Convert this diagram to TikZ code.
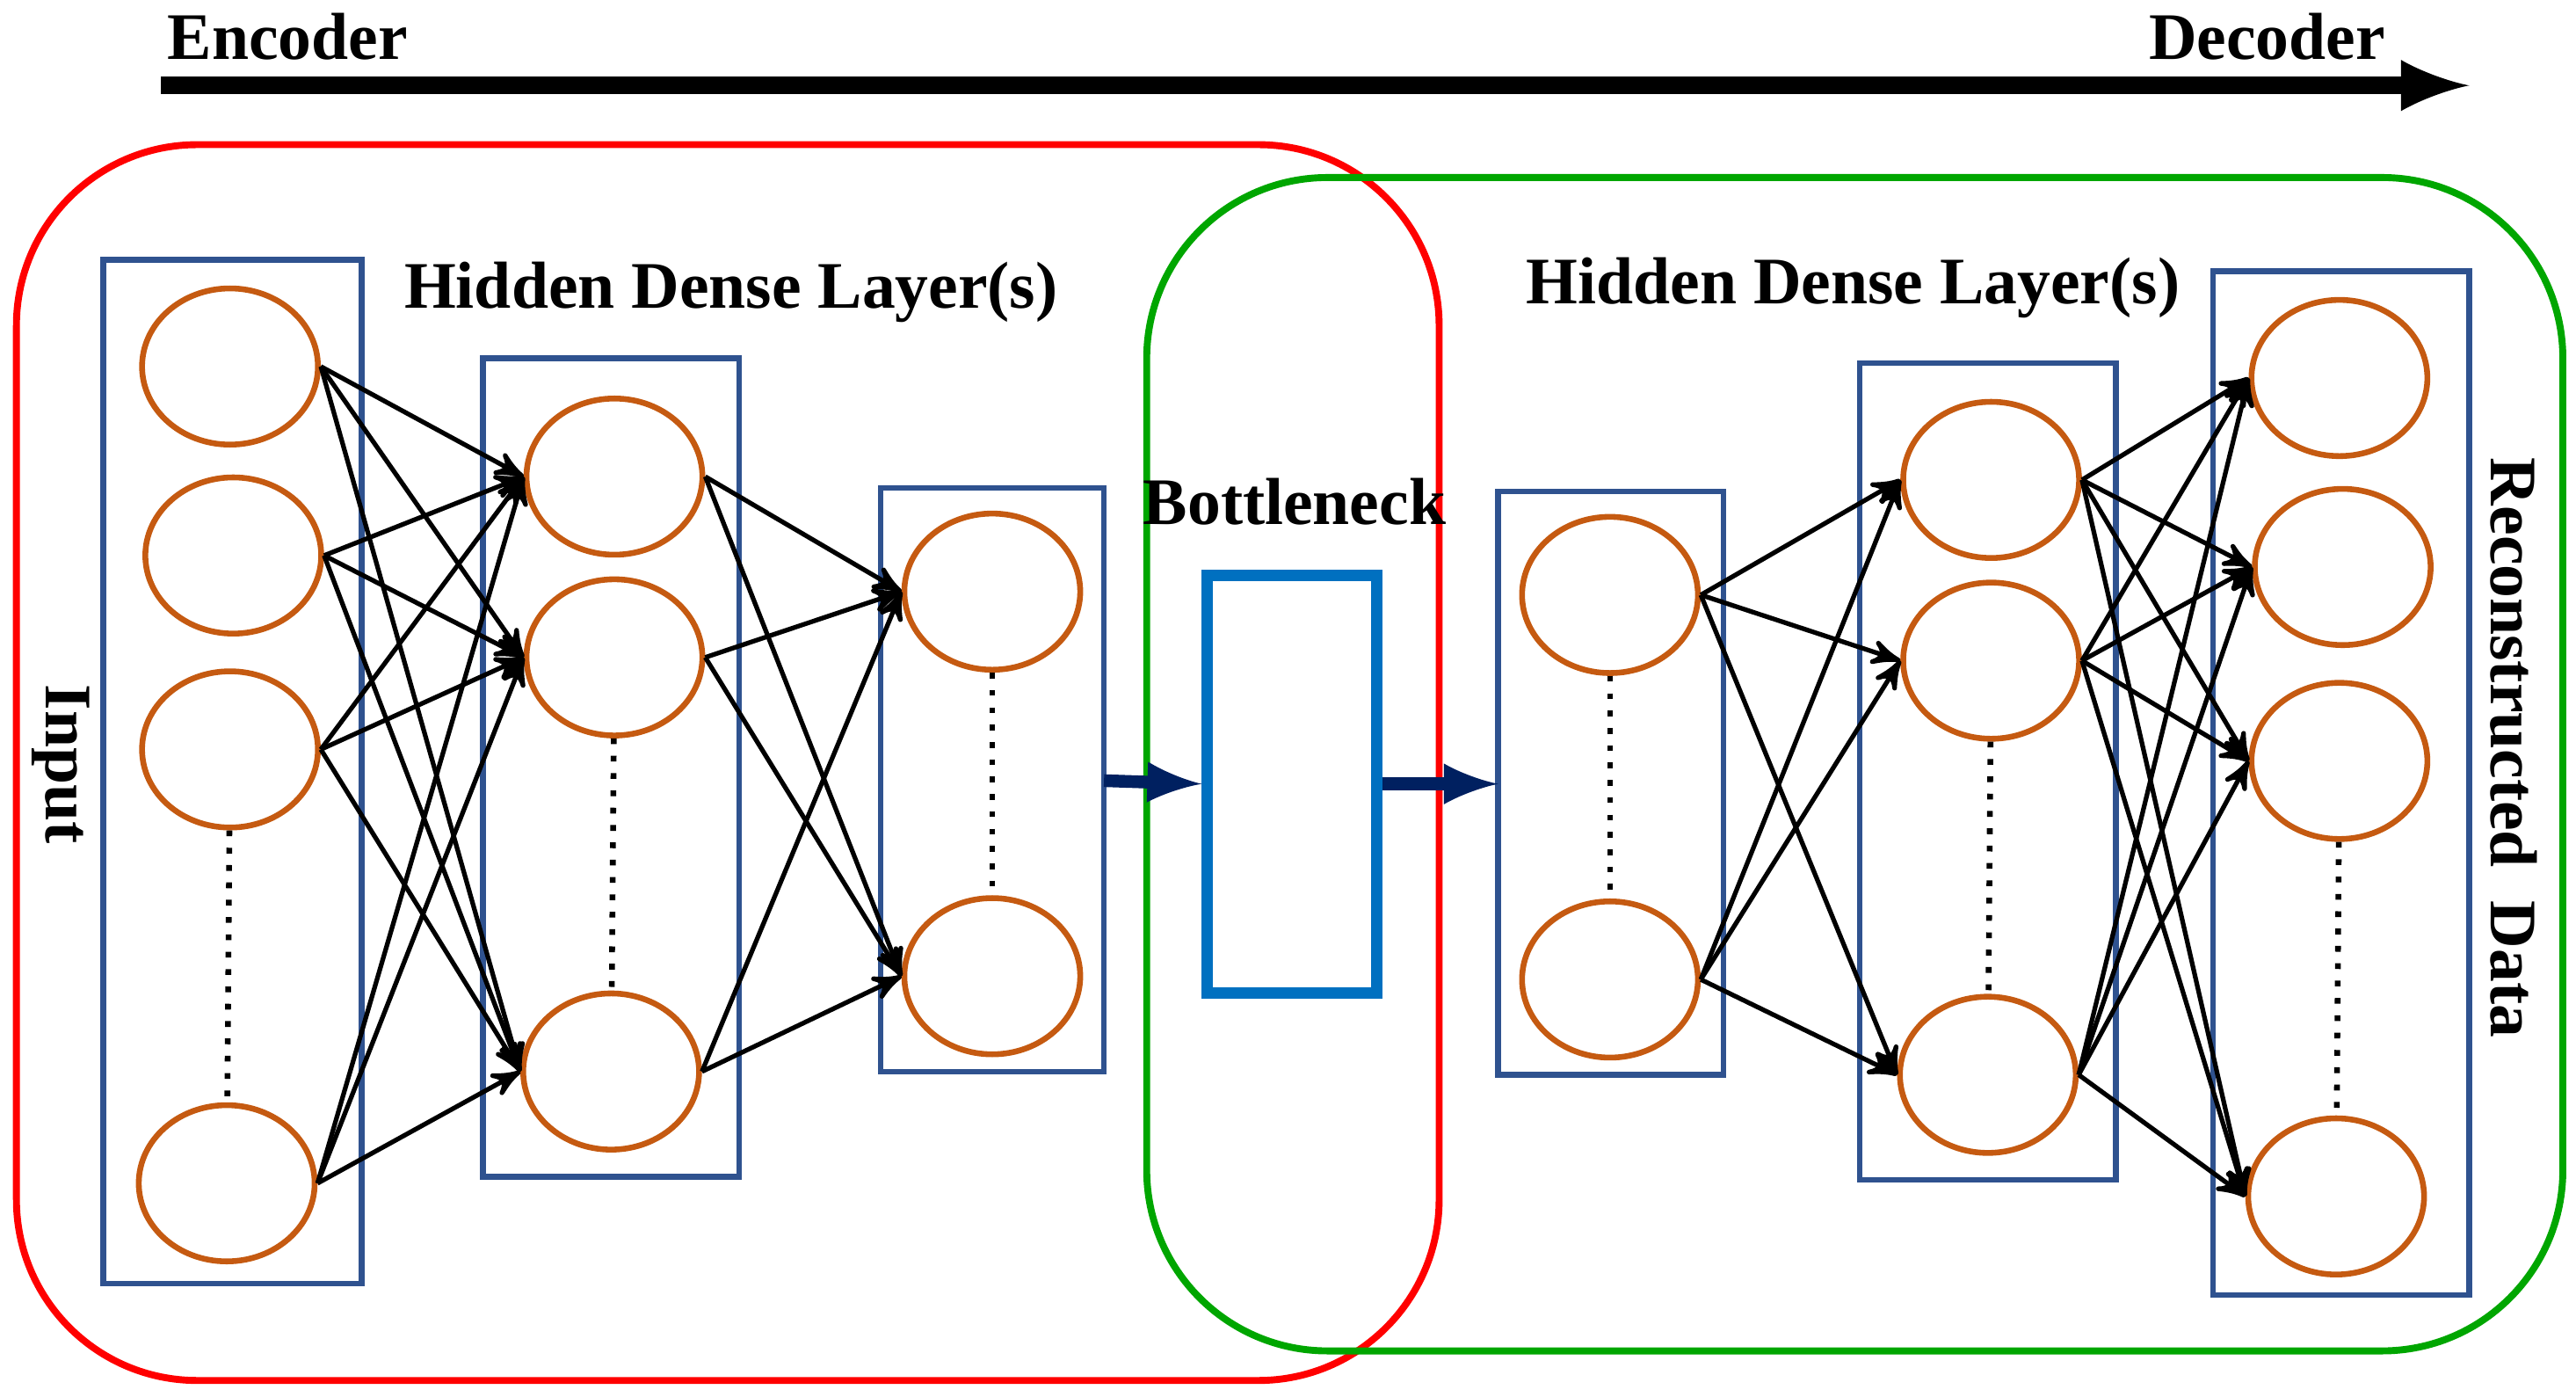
\documentclass[tikz,border=0pt]{standalone}
\usepackage{fontspec}
\setmainfont{Liberation Serif}
\usetikzlibrary{arrows,shapes.geometric}
\definecolor{boxblue}{RGB}{47,82,143}
\definecolor{neuron}{RGB}{197,90,17}
\definecolor{bneck}{RGB}{0,112,192}
\definecolor{navy}{RGB}{0,32,96}

\begin{document}
\begin{tikzpicture}[x=0.01cm,y=-0.01cm,>=stealth',
  neuron node/.style={ellipse,draw=neuron,line width=1pt,minimum width=1.07cm,minimum height=0.95cm,inner sep=0pt},
  layer box/.style={draw=boxblue,line width=1pt},
  edge/.style={->,line width=0.8pt},
  label text/.style={font=\bfseries\fontsize{11.5}{13}\selectfont}]

  \useasboundingbox (0,0) rectangle (1568,850);

  % direction arrow
  \coordinate (start) at (98,52);
  \coordinate (finish) at (1503,52);
  \draw[-latex,line width=3pt] (start) -- (finish);
  \node[label text] (enc) at (175,22) {Encoder};
  \node[label text] (dec) at (1380,22) {Decoder};

  % encoder / decoder regions
  \draw[red,line width=1.2pt,rounded corners=1.1cm] (10,88) rectangle (876,840);
  \draw[green!65!black,line width=1.2pt,rounded corners=1.1cm] (698,108) rectangle (1560,822);

  % layer boxes
  \draw[layer box] (63,158) rectangle (220,781);
  \draw[layer box] (294,218) rectangle (450,716);
  \draw[layer box] (536,297) rectangle (672,652);
  \draw[layer box] (912,299) rectangle (1049,654);
  \draw[layer box] (1132,221) rectangle (1288,718);
  \draw[layer box] (1347,165) rectangle (1503,788);

  % neurons
  \foreach \n/\x/\y in {i1/140/223,i2/142/338,i3/140/456,i4/138/720,
      a1/374/290,a2/374/400,a3/372/652,
      b1/604/360,b2/604/594,
      c1/980/362,c2/980/596,
      d1/1212/292,d2/1212/402,d3/1210/654,
      o1/1424/230,o2/1426/345,o3/1424/463,o4/1422/728}
    \node[neuron node] (\n) at (\x,\y) {};

  % dotted gaps
  \draw[dotted,line width=1pt] (i3) -- (i4);
  \draw[dotted,line width=1pt] (a2) -- (a3);
  \draw[dotted,line width=1pt] (b1) -- (b2);
  \draw[dotted,line width=1pt] (c1) -- (c2);
  \draw[dotted,line width=1pt] (d2) -- (d3);
  \draw[dotted,line width=1pt] (o3) -- (o4);

  % connections
  \foreach \s in {i1,i2,i3,i4}
    \foreach \t in {a1,a2,a3}
      \draw[edge] (\s.east) -- (\t.west);
  \foreach \s in {a1,a2,a3}
    \foreach \t in {b1,b2}
      \draw[edge] (\s.east) -- (\t.west);
  \foreach \s in {c1,c2}
    \foreach \t in {d1,d2,d3}
      \draw[edge] (\s.east) -- (\t.west);
  \foreach \s in {d1,d2,d3}
    \foreach \t in {o1,o2,o3,o4}
      \draw[edge] (\s.east) -- (\t.west);

  % bottleneck
  \node[draw=bneck,line width=2pt,minimum width=1.03cm,minimum height=2.54cm] (neck) at (786.5,477) {};
  \node[label text] (necklabel) at (788,305) {Bottleneck};
  \draw[->,navy,line width=2.2pt,>=latex] (672,475) -- (neck.west);
  \draw[->,navy,line width=2.2pt,>=latex] (neck.east) -- (912,477);

  % labels
  \node[label text,rotate=-90] (inp) at (37,465) {Input};
  \node[label text,rotate=-90] (rec) at (1530,455) {Reconstructed\ \ Data};
  \node[label text] (hid1) at (445,178) {Hidden Dense Layer(s)};
  \node[label text] (hid2) at (1128,175) {Hidden Dense Layer(s)};
\end{tikzpicture}
\end{document}
